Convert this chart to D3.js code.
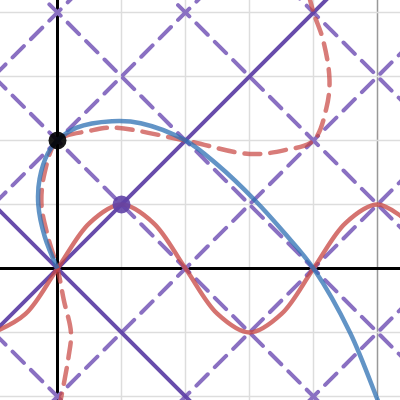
<!DOCTYPE html>
<html><head><meta charset="utf-8">
<script src="https://cdn.jsdelivr.net/npm/d3@7"></script>
<style>body{margin:0;background:#fff}svg{display:block}</style>
</head><body>
<svg id="c" width="400" height="400"></svg>
<script>
// values (graph units)
const sineX = [-1, -0.5, 0, 0.5, 1, 1.5, 2, 2.5, 3, 3.5, 4, 4.5, 5, 5.5];
const sineY = [-1, -0.71, 0, 0.71, 1, 0.71, 0, -0.71, -1, -0.71, 0, 0.71, 1, 0.71];
const blueX = [0, -0.2, -0.3, -0.28, -0.15, 0, 0.3, 0.85, 1.3, 2, 2.5, 3.08, 3.55, 4, 4.57, 5.0, 5.1];
const blueY = [0, 0.5, 1.0, 1.4, 1.8, 2, 2.2, 2.3, 2.27, 2, 1.62, 1.07, 0.55, 0, -1, -2.05, -2.3];
const dashX = [0.02, 0.17, 0.21, 0.1, 0, -0.15, -0.25, -0.2, 0, 0.5, 0.87, 2, 3.0, 3.55, 4, 4.2, 4.25, 4.15, 4, 3.92];
const dashY = [-2.2, -1.4, -1.0, -0.5, 0, 0.5, 1.0, 1.5, 2, 2.15, 2.2, 2, 1.79, 1.85, 2, 2.5, 2.95, 3.57, 4, 4.3];
const diagUp = [-6, -4, -2, 2, 4, 6];      // y = x + c (dashed)
const diagDown = [-2, 2, 4, 6, 8, 10];     // y = -x + c (dashed)
const solidUp = [0], solidDown = [0];
const points = [{x: 0, y: 2, c: '#000'}, {x: 1, y: 1, c: '#6042a6'}];

const svg = d3.select('#c');
const x = d3.scaleLinear().domain([0, 1]).range([57.5, 121.5]);
const y = d3.scaleLinear().domain([0, 1]).range([268.5, 204.5]);
const gx = d3.range(-1, 7), gy = d3.range(-3, 5);

svg.selectAll('.gv').data(gx).enter().append('line')
  .attr('x1', d => x(d)).attr('x2', d => x(d)).attr('y1', 0).attr('y2', 400)
  .attr('stroke', d => d === 5 ? '#999' : '#ddd').attr('stroke-width', 1.5);
svg.selectAll('.gh').data(gy).enter().append('line')
  .attr('y1', d => y(d)).attr('y2', d => y(d)).attr('x1', 0).attr('x2', 400)
  .attr('stroke', '#ddd').attr('stroke-width', 1.5);
svg.append('line').attr('x1', x(0)).attr('x2', x(0)).attr('y1', 0).attr('y2', 400).attr('stroke', '#000').attr('stroke-width', 3);
svg.append('line').attr('y1', y(0)).attr('y2', y(0)).attr('x1', 0).attr('x2', 400).attr('stroke', '#000').attr('stroke-width', 3);

function diag(c, s, dashed) {
  svg.append('line')
    .attr('x1', x(-3)).attr('y1', y(s * -3 + c)).attr('x2', x(9)).attr('y2', y(s * 9 + c))
    .attr('stroke', dashed ? '#8a70c2' : '#6042a6').attr('stroke-opacity', dashed ? 1 : 0.95)
    .attr('stroke-width', 4)
    .attr('stroke-dasharray', dashed ? '16,10' : null).attr('stroke-linecap', 'round');
}
diagUp.forEach(c => diag(c, 1, true));
diagDown.forEach(c => diag(c, -1, true));
solidUp.forEach(c => diag(c, 1, false));
solidDown.forEach(c => diag(c, -1, false));

const line = d3.line().x(d => x(d[0])).y(d => y(d[1])).curve(d3.curveCatmullRom);
svg.append('path').datum(sineX.map((v, i) => [v, sineY[i]])).attr('d', line)
  .attr('fill', 'none').attr('stroke', '#c74440').attr('stroke-opacity', 0.75).attr('stroke-width', 4.5);
svg.append('path').datum(dashX.map((v, i) => [v, dashY[i]])).attr('d', line)
  .attr('fill', 'none').attr('stroke', '#c74440').attr('stroke-opacity', 0.7).attr('stroke-width', 4.5)
  .attr('stroke-dasharray', '16,10').attr('stroke-linecap', 'round');
svg.append('path').datum(blueX.map((v, i) => [v, blueY[i]])).attr('d', line)
  .attr('fill', 'none').attr('stroke', '#2d70b3').attr('stroke-opacity', 0.75).attr('stroke-width', 4.5);

svg.selectAll('.pt').data(points).enter().append('circle')
  .attr('cx', d => x(d.x)).attr('cy', d => y(d.y)).attr('r', 9)
  .attr('fill', d => d.c).attr('fill-opacity', 0.9);
</script>
</body></html>
